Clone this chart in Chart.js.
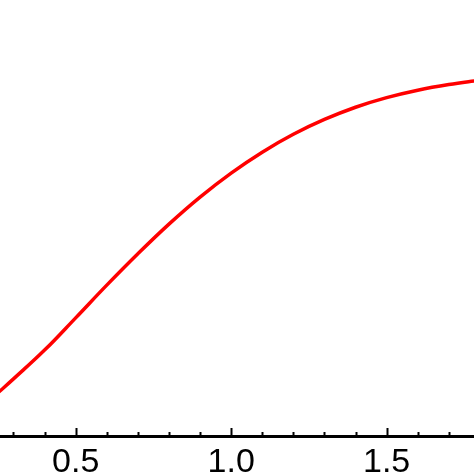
<!DOCTYPE html>
<html>
<head>
<meta charset="utf-8">
<script src="https://cdn.jsdelivr.net/npm/chart.js@4"></script>
<style>
html, body { margin: 0; padding: 0; background: #fff; overflow: hidden; }
#wrap { position: absolute; left: 0; top: 0; width: 474px; height: 500px; }
</style>
</head>
<body>
<div id="wrap"><canvas id="curveChart"></canvas></div>
<script>
/* ==========================================
DATA
========================================== */

const xValues = [0.25, 0.3, 0.4, 0.5, 0.6, 0.7, 0.8, 0.9, 1.0,
1.1, 1.2, 1.3, 1.4, 1.5, 1.6, 1.7, 1.8];

const yValues = [0.099, 0.131, 0.197, 0.271, 0.346, 0.418, 0.486, 0.548, 0.603,
0.651, 0.692, 0.726, 0.754, 0.776, 0.793, 0.806, 0.816];

const tickValues = [0.3, 0.4, 0.5, 0.6, 0.7, 0.8, 0.9, 1.0,
1.1, 1.2, 1.3, 1.4, 1.5, 1.6, 1.7];

const majorTicks = [0.5, 1.0, 1.5];
const majorLabels = ["0.5", "1.0", "1.5"];

const points = xValues.map((x, i) => ({ x: x, y: yValues[i] }));

function isMajor(v){
return majorTicks.some(m => Math.abs(m - v) < 1e-6);
}

/* ==========================================
INWARD TICK MARKS
========================================== */

const innerTicks = {
id: "innerTicks",
afterDraw(chart){
const scale = chart.scales.x;
const ctx = chart.ctx;
const base = chart.chartArea.bottom;
ctx.save();
ctx.strokeStyle = "#000";
ctx.lineWidth = 2;
tickValues.forEach(v => {
const px = Math.round(scale.getPixelForValue(v)) + 0.5;
const len = isMajor(v) ? 8 : 4;
ctx.beginPath();
ctx.moveTo(px, base);
ctx.lineTo(px, base - len);
ctx.stroke();
});
ctx.restore();
}
};

/* ==========================================
CHART
========================================== */

new Chart(
document.getElementById("curveChart"),
{
type: "line",
data: {
datasets: [{
data: points,
borderColor: "#ff0000",
borderWidth: 3.5,
pointRadius: 0,
tension: 0.4,
fill: false
}]
},
options: {
responsive: true,
maintainAspectRatio: false,
animation: false,
layout: { padding: 0 },
plugins: {
legend: { display: false },
tooltip: { enabled: false }
},
scales: {
x: {
type: "linear",
min: 0.2566,
max: 1.781,
afterBuildTicks: scale => {
scale.ticks = tickValues.map(v => ({ value: v }));
},
afterFit: scale => {
scale.height = 64;
},
grid: { display: false, drawTicks: false },
border: { display: true, color: "#000", width: 3 },
ticks: {
autoSkip: false,
maxRotation: 0,
padding: 6,
color: "#000",
font: { family: "Liberation Sans, Arial", size: 34 },
callback: v => {
const i = majorTicks.findIndex(m => Math.abs(m - v) < 1e-6);
return i >= 0 ? majorLabels[i] : "";
}
}
},
y: {
display: false,
min: 0,
max: 1
}
}
},
plugins: [innerTicks]
}
);
</script>
</body>
</html>
